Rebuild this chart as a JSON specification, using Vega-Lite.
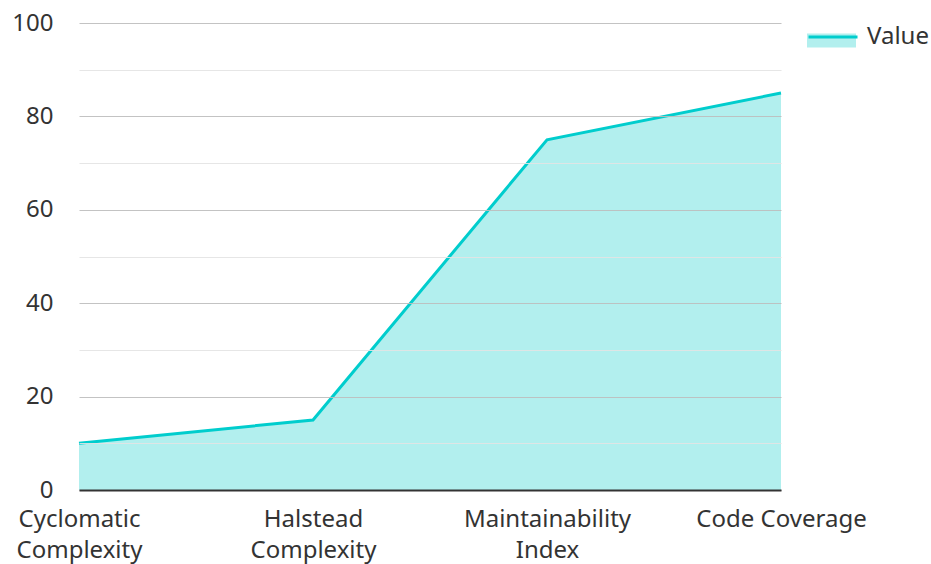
{
  "$schema": "https://vega.github.io/schema/vega-lite/v6.json",
  "autosize": "none",
  "padding": {"left": 79, "top": 23, "right": 150, "bottom": 74},
  "width": 702,
  "height": 467,
  "background": "white",
  "config": {
    "font": "Noto Sans",
    "view": {"stroke": null}
  },
  "data": {
    "values": [
      {"metric": "Cyclomatic Complexity", "value": 10, "series": "Value"},
      {"metric": "Halstead Complexity", "value": 15, "series": "Value"},
      {"metric": "Maintainability Index", "value": 75, "series": "Value"},
      {"metric": "Code Coverage", "value": 85, "series": "Value"}
    ]
  },
  "encoding": {
    "x": {
      "field": "metric",
      "type": "nominal",
      "sort": null,
      "scale": {"type": "point", "padding": 0},
      "axis": {
        "title": null,
        "labelAngle": 0,
        "ticks": false,
        "domainColor": "#333333",
        "domainWidth": 2,
        "labelFontSize": 24,
        "labelColor": "#333333",
        "labelPadding": 17,
        "labelLineHeight": 31,
        "labelExpr": "datum.label == 'Code Coverage' ? datum.label : split(datum.label, ' ')",
        "zindex": 2
      }
    },
    "y": {
      "field": "value",
      "type": "quantitative",
      "scale": {"domain": [0, 100], "nice": false},
      "axis": {
        "title": null,
        "values": [0, 10, 20, 30, 40, 50, 60, 70, 80, 90, 100],
        "ticks": false,
        "domain": false,
        "labelFontSize": 24,
        "labelColor": "#333333",
        "labelPadding": 26,
        "labelExpr": "datum.value % 20 == 0 ? datum.label : ''",
        "gridColor": {"expr": "datum.value % 20 == 0 ? '#bdbdbd' : '#e3e3e3'"},
        "gridWidth": 1,
        "gridOpacity": 0.9,
        "zindex": 1
      }
    }
  },
  "layer": [
    {
      "mark": {"type": "area", "opacity": 1},
      "encoding": {
        "fill": {
          "field": "series",
          "type": "nominal",
          "scale": {"range": ["#b2efee"]},
          "legend": {
            "title": null,
            "orient": "none",
            "legendX": 728,
            "legendY": -7,
            "symbolType": "M-1,-0.29L1,-0.29L1,0.29L-1,0.29Z",
            "symbolSize": 2401,
            "symbolOpacity": 1,
            "symbolStrokeWidth": 0,
            "labelExpr": "''",
            "labelFontSize": 24
          }
        }
      }
    },
    {
      "mark": {"type": "line", "strokeWidth": 3},
      "encoding": {
        "stroke": {
          "field": "series",
          "type": "nominal",
          "scale": {"range": ["#00cdcd"]},
          "legend": {
            "title": null,
            "orient": "none",
            "legendX": 728,
            "legendY": -12,
            "symbolType": "stroke",
            "symbolSize": 2401,
            "symbolStrokeWidth": 3,
            "labelFontSize": 24,
            "labelColor": "#333333",
            "labelOffset": 8
          }
        }
      }
    }
  ],
  "resolve": {"scale": {"fill": "independent", "stroke": "independent"}, "legend": {"fill": "independent", "stroke": "independent"}}
}
